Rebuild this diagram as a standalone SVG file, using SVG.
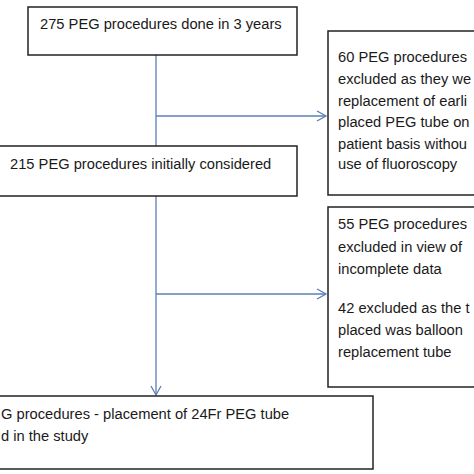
<svg xmlns="http://www.w3.org/2000/svg" width="474" height="474" viewBox="0 0 474 474">
<style>
.box{fill:#fff;stroke:#222;stroke-width:1.5}
.t{font-family:"Liberation Sans",Arial,sans-serif;font-size:14.7px;fill:#1a1a1a}
.c{fill:none;stroke:#5b7fb6;stroke-width:1.3}
</style>
<defs>
<marker id="a" markerWidth="12" markerHeight="12" refX="10" refY="6" orient="auto" markerUnits="userSpaceOnUse">
<path d="M1,1 L10,6 L1,11" fill="none" stroke="#5b7fb6" stroke-width="1.3"/>
</marker>
</defs>
<rect width="474" height="474" fill="#fff"/>
<g id="connectors">
<line class="c" x1="156" y1="55" x2="156" y2="182" marker-end="url(#a)"/>
<line class="c" x1="156" y1="116" x2="326" y2="116" marker-end="url(#a)"/>
<line class="c" x1="156" y1="196" x2="156" y2="395" marker-end="url(#a)"/>
<line class="c" x1="156" y1="294" x2="326" y2="294" marker-end="url(#a)"/>
</g>
<g id="n1">
<rect class="box" x="28" y="7" width="269" height="48"/>
<text class="t" x="40" y="29">275 PEG procedures done in 3 years</text>
</g>
<g id="n2">
<rect class="box" x="328" y="31" width="160" height="164"/>
<text class="t" x="338" y="62">60 PEG procedures</text>
<text class="t" x="338" y="84">excluded as they we</text>
<text class="t" x="338" y="106">replacement of earli</text>
<text class="t" x="338" y="127">placed PEG tube on</text>
<text class="t" x="338" y="149">patient basis withou</text>
<text class="t" x="338" y="169">use of fluoroscopy</text>
</g>
<g id="n3">
<rect class="box" x="-10" y="146" width="307" height="50"/>
<text class="t" x="10" y="169">215 PEG procedures initially considered</text>
</g>
<g id="n4">
<rect class="box" x="328" y="207" width="160" height="180"/>
<text class="t" x="338" y="229">55 PEG procedures</text>
<text class="t" x="338" y="252">excluded in view of</text>
<text class="t" x="338" y="274">incomplete data</text>
<text class="t" x="338" y="313">42 excluded as the t</text>
<text class="t" x="338" y="335">placed was balloon</text>
<text class="t" x="338" y="357">replacement tube</text>
</g>
<g id="n5">
<rect class="box" x="-10" y="396" width="383" height="73"/>
<text class="t" x="1" y="419">G procedures - placement of 24Fr PEG tube</text>
<text class="t" x="1" y="441">d in the study</text>
</g>
</svg>
